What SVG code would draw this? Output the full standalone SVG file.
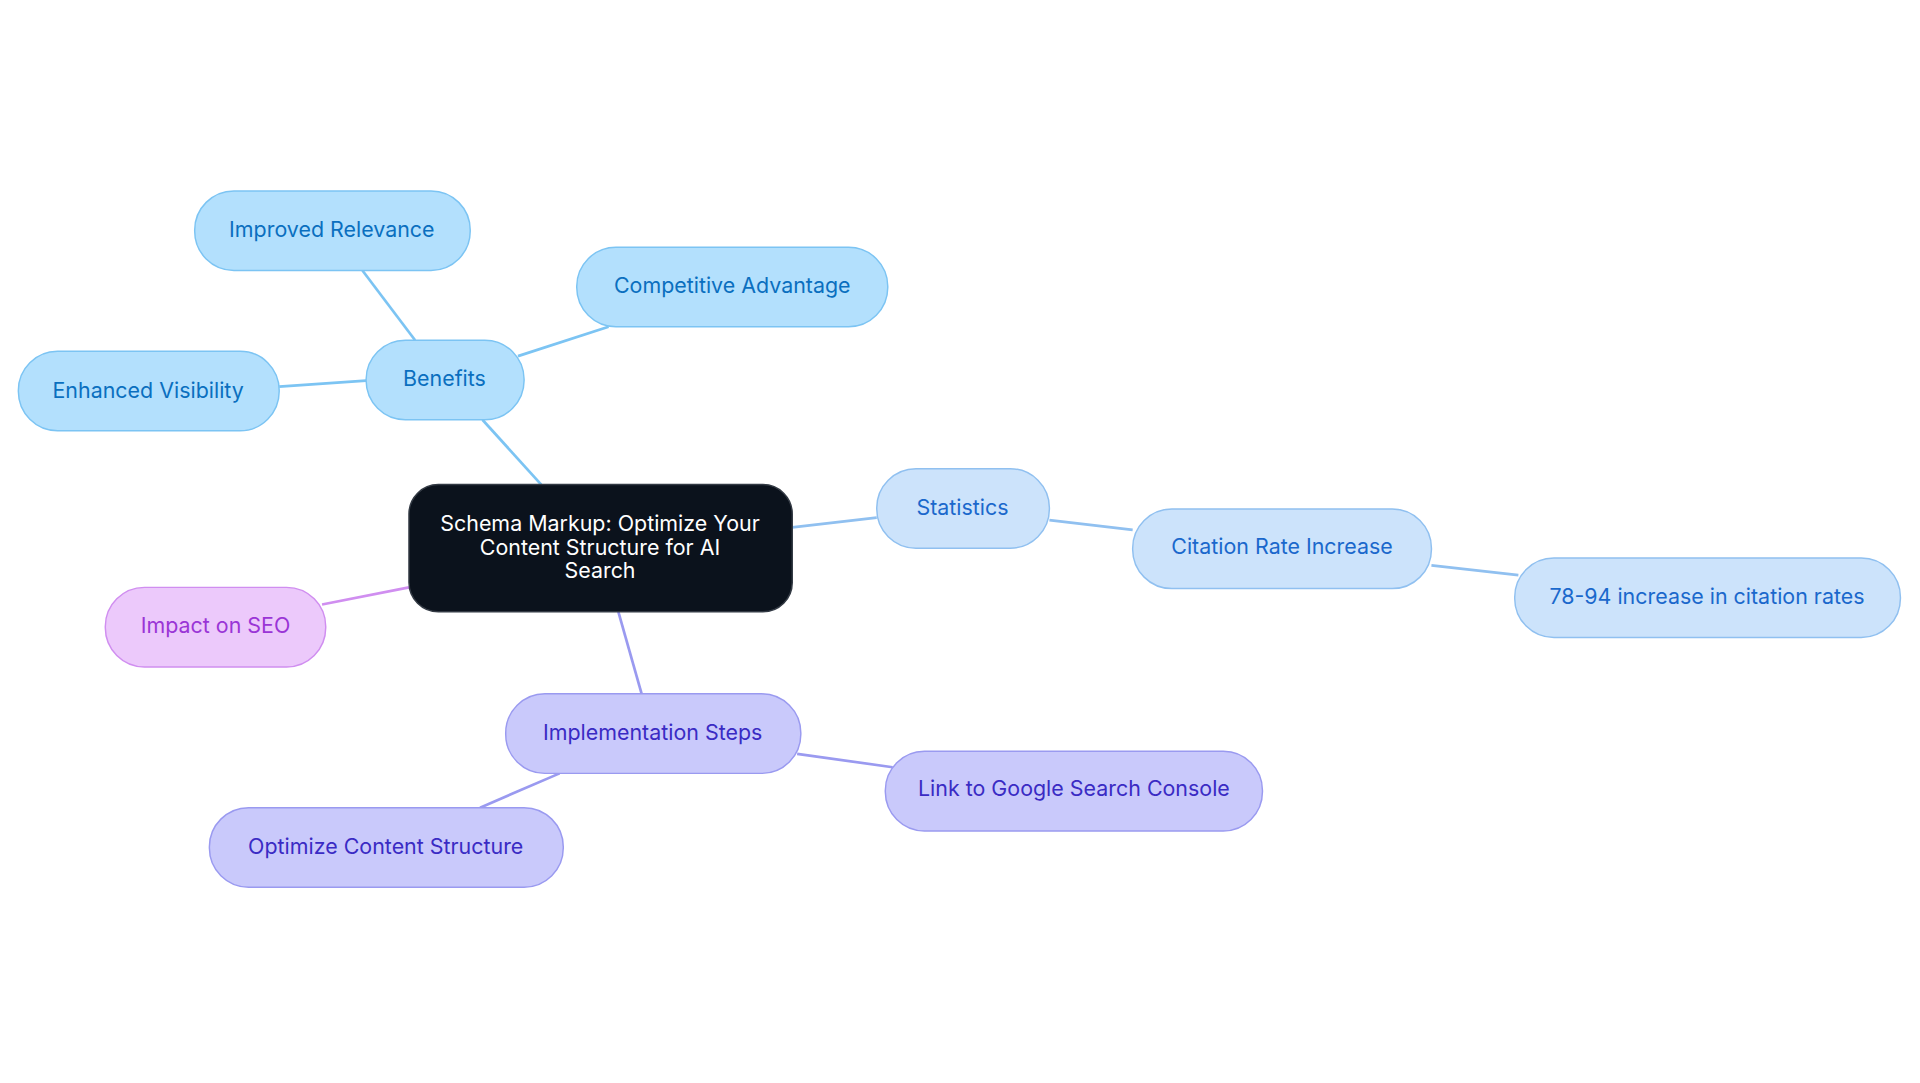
<svg xmlns="http://www.w3.org/2000/svg" width="1920" height="1083" viewBox="0 0 1920 1083">
<style>
text{font-family:Inter,"Noto Sans",sans-serif;font-size:17.5px;text-anchor:middle;dominant-baseline:central}
.b rect{fill:#b3e0fd;stroke:#7cc4f3;stroke-width:1.2}.b text{fill:#0a6fbf}
.s rect{fill:#cce3fb;stroke:#90c0f0;stroke-width:1.2}.s text{fill:#1a68cc}
.p rect{fill:#ecc9fb;stroke:#d08ef0;stroke-width:1.2}.p text{fill:#9a35d6}
.i rect{fill:#c9c9fb;stroke:#9a9af0;stroke-width:1.2}.i text{fill:#3a2bc4}
.c rect{fill:#0b121c;stroke:#333a44;stroke-width:1.2}.c text{fill:#fff}
#edges line{stroke-width:2.2}
</style>
<rect width="1920" height="1083" fill="#fff"/>
<g transform="scale(1.2245 1.2237)">
<g id="edges">
<line x1="442" y1="396" x2="394" y2="343" stroke="#7cc4f3"/>
<line x1="339" y1="278" x2="296" y2="221" stroke="#7cc4f3"/>
<line x1="423" y1="291" x2="497" y2="267" stroke="#7cc4f3"/>
<line x1="299" y1="311" x2="228" y2="316" stroke="#7cc4f3"/>
<line x1="647" y1="431" x2="716" y2="423" stroke="#90c0f0"/>
<line x1="857" y1="425" x2="925" y2="433" stroke="#90c0f0"/>
<line x1="1169" y1="462" x2="1240" y2="470" stroke="#90c0f0"/>
<line x1="334" y1="480" x2="263" y2="494" stroke="#d08ef0"/>
<line x1="505" y1="500" x2="524" y2="567" stroke="#9a9af0"/>
<line x1="651" y1="616" x2="729" y2="627" stroke="#9a9af0"/>
<line x1="457" y1="632" x2="392" y2="660" stroke="#9a9af0"/>
</g>
<g id="central" class="c"><rect x="334" y="396" width="313" height="104" rx="24"/><text x="490" y="427">Schema Markup: Optimize Your</text><text x="490" y="447">Content Structure for AI</text><text x="490" y="466">Search</text></g>
<g id="benefits" class="b"><rect x="299" y="278" width="129" height="65" rx="32"/><text x="363" y="309">Benefits</text></g>
<g id="improved" class="b"><rect x="159" y="156" width="225" height="65" rx="32"/><text x="271" y="187">Improved Relevance</text></g>
<g id="competitive" class="b"><rect x="471" y="202" width="254" height="65" rx="32"/><text x="598" y="233">Competitive Advantage</text></g>
<g id="enhanced" class="b"><rect x="15" y="287" width="213" height="65" rx="32"/><text x="121" y="319">Enhanced Visibility</text></g>
<g id="statistics" class="s"><rect x="716" y="383" width="141" height="65" rx="32"/><text x="786" y="414">Statistics</text></g>
<g id="citation" class="s"><rect x="925" y="416" width="244" height="65" rx="32"/><text x="1047" y="446">Citation Rate Increase</text></g>
<g id="rates" class="s"><rect x="1237" y="456" width="315" height="65" rx="32"/><text x="1394" y="487">78-94 increase in citation rates</text></g>
<g id="impact" class="p"><rect x="86" y="480" width="180" height="65" rx="32"/><text x="176" y="511">Impact on SEO</text></g>
<g id="impl" class="i"><rect x="413" y="567" width="241" height="65" rx="32"/><text x="533" y="598">Implementation Steps</text></g>
<g id="link" class="i"><rect x="723" y="614" width="308" height="65" rx="32"/><text x="877" y="644">Link to Google Search Console</text></g>
<g id="optimize" class="i"><rect x="171" y="660" width="289" height="65" rx="32"/><text x="315" y="691">Optimize Content Structure</text></g>
</g>
</svg>
